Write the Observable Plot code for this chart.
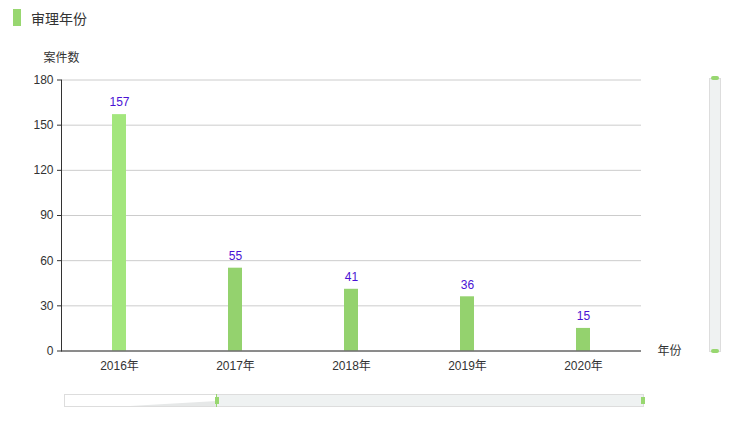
<!DOCTYPE html>
<html><head><meta charset="utf-8">
<script src="https://cdn.jsdelivr.net/npm/d3@7"></script>
<script src="https://cdn.jsdelivr.net/npm/@observablehq/plot@0.6"></script>
<style>
body{margin:0;background:#fff;font-family:"Liberation Sans","Noto Sans CJK SC",sans-serif;}
#wrap{position:relative;width:740px;height:441px;overflow:hidden;}
#title{position:absolute;left:13px;top:9px;height:17px;display:flex;align-items:center;}
#title .mark{width:8px;height:17px;background:#98d770;margin-right:10px;}
#title .txt{font-size:14px;color:#333;font-family:"Noto Sans CJK SC",sans-serif;}
#chart{position:absolute;left:0;top:0;}
.hz{position:absolute;left:64px;top:394px;width:580px;height:13px;border:1px solid #ddd;background:#fff;box-sizing:border-box;}
.hz .sel{position:absolute;left:152px;top:0;right:0;bottom:0;background:#eff2f2;}
.hz .shadow{position:absolute;left:0;top:0;width:152px;height:11px;}
.h{position:absolute;background:#98d770;}
.vt{position:absolute;left:709px;top:78px;width:12px;height:274px;border:1px solid #ddd;background:#eff2f2;box-sizing:border-box;}
</style></head>
<body>
<div id="wrap">
  <div id="chart"></div>
  <div id="title"><div class="mark"></div><div class="txt">审理年份</div></div>
  <div class="hz">
    <svg class="shadow" width="152" height="11"><path d="M0,11 L65,11 L152,6 L152,11 Z" fill="#e6e8e8"/></svg>
    <div class="sel"></div>
  </div>
  <div class="h" style="left:215px;top:397px;width:4px;height:7px;"></div>
  <div class="h" style="left:216px;top:394px;width:1px;height:13px;"></div>
  <div class="h" style="left:641px;top:397px;width:4px;height:7px;"></div>
  <div class="vt"></div>
  <div class="h" style="left:711px;top:76px;width:8px;height:4px;border-radius:2px;"></div>
  <div class="h" style="left:711px;top:349px;width:8px;height:4px;border-radius:2px;"></div>
</div>
<script>
const years = ["2016年","2017年","2018年","2019年","2020年"];
const counts = [157, 55, 41, 36, 15];
const barColors = ["#a3e67d","#94d26e","#94d26e","#94d26e","#94d26e"];
const yTicks = [0,30,60,90,120,150,180];

const data = years.map((y,i)=>({year:y, count:counts[i], color:barColors[i]}));

const chart = Plot.plot({
  width: 740,
  height: 441,
  marginLeft: 61,
  marginRight: 99,
  marginTop: 79.5,
  marginBottom: 90.5,
  style: {fontFamily: '"Liberation Sans","Noto Sans CJK SC",sans-serif', fontSize: "12px", color: "#333", background: "transparent"},
  x: {domain: years, padding: 0, label: null},
  y: {domain: [0,180], label: null},
  marks: [
    Plot.gridY(yTicks, {stroke: "#cccccc", strokeOpacity: 1}),
    Plot.barY(data, {x: "year", y: "count", fill: "color", insetLeft: 51, insetRight: 51}),
    Plot.text(data, {x: "year", y: "count", text: d => String(d.count), dy: -12, fill: "#4a12d4", fontSize: 12}),
    Plot.axisY(yTicks, {tickSize: 4, tickPadding: 4, stroke: "#333", fill: "#333", label: null, fontSize: 12}),
    Plot.axisX({tickSize: 0, tickPadding: 10, fill: "#333", label: null, fontSize: 12}),
    Plot.ruleY([0], {stroke: "#333"}),
    Plot.frame({anchor: "left", stroke: "#333"}),
    Plot.text(["案件数"], {frameAnchor: "top-left", lineAnchor: "middle", dy: -22, dx: 0, textAnchor: "middle", fill: "#333", fontSize: 12}),
    Plot.text(["年份"], {frameAnchor: "bottom-right", lineAnchor: "middle", dx: 16, dy: 0, textAnchor: "start", fill: "#333", fontSize: 12})
  ]
});
document.getElementById("chart").appendChild(chart);
</script>
</body></html>
